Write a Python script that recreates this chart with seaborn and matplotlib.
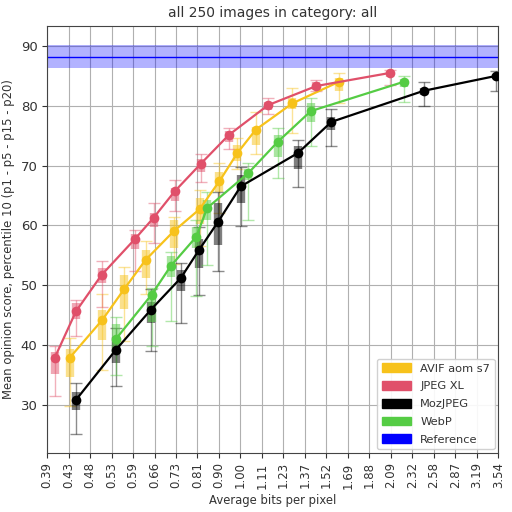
import numpy as np
import pandas as pd
import matplotlib
matplotlib.use("Agg")
import matplotlib.pyplot as plt
import matplotlib.patches as mpatches
import seaborn as sns

title = "all 250 images in category: all"
xlabel = "Average bits per pixel"
ylabel = "Mean opinion score, percentile 10 (p1 - p5 - p15 - p20)"
xtick_labels = ["0.39", "0.43", "0.48", "0.53", "0.59", "0.66", "0.73", "0.81", "0.90", "1.00",
                "1.11", "1.23", "1.37", "1.52", "1.69", "1.88", "2.09", "2.32", "2.58", "2.87",
                "3.19", "3.54"]

codecs = ["AVIF aom s7", "JPEG XL", "MozJPEG", "WebP"]
colors = ["#f7c21b", "#e0506a", "#000000", "#55cc44"]

avif_bpp = [0.436, 0.511, 0.568, 0.631, 0.724, 0.822, 0.906, 0.989, 1.082, 1.294, 1.625]
avif_p1 = [29.8, 35.8, 40.6, 48.5, 53.5, 56.5, 62.0, 69.5, 72.0, 75.5, 80.4]
avif_p5 = [34.7, 40.8, 46.0, 51.2, 56.2, 60.3, 65.5, 70.7, 73.4, 79.4, 82.4]
avif_p10 = [37.9, 44.2, 49.3, 54.2, 59.0, 62.7, 67.4, 72.1, 76.0, 80.4, 84.0]
avif_p15 = [39.4, 45.9, 51.7, 55.9, 60.9, 64.5, 69.0, 73.4, 76.5, 81.3, 84.6]
avif_p20 = [41.1, 48.5, 53.1, 57.4, 61.4, 65.9, 70.5, 74.6, 79.0, 82.9, 85.4]

jxl_bpp = [0.405, 0.449, 0.509, 0.599, 0.657, 0.728, 0.827, 0.948, 1.149, 1.455, 2.09]
jxl_p1 = [31.5, 41.5, 46.3, 52.3, 57.0, 62.4, 67.3, 72.8, 78.7, 82.4, 83.5]
jxl_p5 = [35.2, 44.3, 50.3, 56.0, 59.8, 64.0, 69.0, 74.0, 79.3, 82.6, 84.8]
jxl_p10 = [37.9, 45.6, 51.7, 57.7, 61.3, 65.7, 70.3, 75.1, 80.1, 83.3, 85.5]
jxl_p15 = [38.9, 47.0, 52.8, 58.6, 62.0, 66.2, 71.1, 75.7, 80.7, 84.0, 85.8]
jxl_p20 = [39.8, 47.5, 54.0, 59.3, 63.7, 67.6, 71.9, 76.2, 81.3, 84.3, 86.0]

moz_bpp = [0.449, 0.546, 0.648, 0.750, 0.820, 0.900, 1.005, 1.330, 1.566, 2.46, 3.51]
moz_p1 = [25.1, 33.2, 39.0, 43.7, 48.4, 52.4, 59.9, 66.4, 73.3, 79.9, 82.5]
moz_p5 = [29.1, 36.9, 43.6, 49.1, 52.9, 56.7, 63.7, 69.5, 76.0, 81.8, 84.4]
moz_p10 = [30.8, 39.2, 45.9, 51.2, 55.9, 60.6, 66.5, 72.1, 77.3, 82.5, 85.0]
moz_p15 = [32.2, 41.3, 47.2, 52.5, 57.7, 63.7, 68.4, 73.2, 78.2, 82.9, 85.3]
moz_p20 = [33.6, 42.8, 49.3, 53.7, 59.8, 65.5, 69.8, 74.3, 79.4, 84.0, 85.8]

webp_bpp = [0.546, 0.650, 0.714, 0.809, 0.853, 1.042, 1.206, 1.416, 2.23]
webp_p1 = [35.0, 39.8, 44.0, 48.2, 53.4, 60.9, 68.0, 73.3, 80.7]
webp_p5 = [38.5, 43.9, 51.4, 56.2, 60.9, 67.6, 71.5, 77.3, 83.2]
webp_p10 = [41.0, 48.4, 53.2, 58.1, 62.9, 68.7, 74.0, 79.1, 84.0]
webp_p15 = [43.5, 49.2, 54.8, 59.8, 64.2, 69.5, 75.1, 80.4, 84.5]
webp_p20 = [44.6, 49.6, 55.6, 60.9, 65.6, 70.5, 76.2, 81.3, 85.0]

ref_mean = 88.2
ref_low = 86.3
ref_high = 90.1

series = {
    "AVIF aom s7": (avif_bpp, avif_p1, avif_p5, avif_p10, avif_p15, avif_p20),
    "JPEG XL": (jxl_bpp, jxl_p1, jxl_p5, jxl_p10, jxl_p15, jxl_p20),
    "MozJPEG": (moz_bpp, moz_p1, moz_p5, moz_p10, moz_p15, moz_p20),
    "WebP": (webp_bpp, webp_p1, webp_p5, webp_p10, webp_p15, webp_p20),
}

rows = []
for name, (b, p1, p5, p10, p15, p20) in series.items():
    for i in range(len(b)):
        rows.append(dict(codec=name, bpp=b[i], p1=p1[i], p5=p5[i], p10=p10[i], p15=p15[i], p20=p20[i]))
df = pd.DataFrame(rows)

sns.set_style("white")
plt.rcParams['font.family'] = ['DejaVu Sans']

fig = plt.figure(figsize=(5.12, 5.12), dpi=100)
ax = fig.add_axes([0.092, 0.116, 0.881, 0.834])

ax.axhspan(ref_low, ref_high, color="#0000ff", alpha=0.3, lw=0, zorder=1)
ax.axhline(ref_mean, color="#0000ff", lw=1.0, zorder=1.5)

palette = dict(zip(codecs, colors))
for name in codecs:
    d = df[df.codec == name]
    c = palette[name]
    ax.errorbar(d.bpp, d.p10, yerr=[d.p10 - d.p1, d.p20 - d.p10], fmt="none",
                ecolor=c, elinewidth=1.0, capsize=4.5, capthick=1.0, alpha=0.45, zorder=2)
    ax.errorbar(d.bpp, (d.p5 + d.p15) / 2, yerr=(d.p15 - d.p5) / 2, fmt="none",
                ecolor=c, elinewidth=6.0, capsize=0, alpha=0.5, zorder=2)

sns.lineplot(data=df, x="bpp", y="p10", hue="codec", hue_order=codecs, palette=palette,
             marker="o", markersize=7, markeredgewidth=0, linewidth=1.6,
             estimator=None, sort=True, ax=ax, legend=False, zorder=3)

ax.set_xscale("log")
ax.set_xlim(0.39, 3.54)
ax.set_ylim(22.0, 93.4)
xt = np.geomspace(0.39, 3.54, len(xtick_labels))
ax.xaxis.set_major_locator(matplotlib.ticker.FixedLocator(xt))
ax.xaxis.set_minor_locator(matplotlib.ticker.NullLocator())
ax.set_xticklabels(xtick_labels, rotation=90, fontsize=8.5, color="#333333")
ax.set_yticks([30, 40, 50, 60, 70, 80, 90])
ax.tick_params(axis="y", labelsize=9.5, labelcolor="#333333")
ax.tick_params(axis="both", which="major", length=3.5, color="#333333", bottom=True, left=True)
ax.grid(True, color="#b0b0b0", linewidth=0.8)
ax.set_axisbelow(True)
for s in ax.spines.values():
    s.set_color("#444444")
    s.set_linewidth(0.8)

ax.set_xlabel(xlabel, fontsize=8.4, color="#333333")
ax.set_ylabel(ylabel, fontsize=8.4, color="#333333")
ax.set_title(title, fontsize=10, color="#333333")

handles = [mpatches.Patch(color=palette[n], label=n) for n in codecs]
handles.append(mpatches.Patch(color="#0000ff", label="Reference"))
ax.legend(handles=handles, loc="lower right", fontsize=8.2, frameon=True, framealpha=0.9,
          edgecolor="#cccccc", fancybox=True, handlelength=2.6, handleheight=0.8,
          labelspacing=0.65, labelcolor="#333333", borderaxespad=0.3)

fig.savefig("out.png", dpi=100)
